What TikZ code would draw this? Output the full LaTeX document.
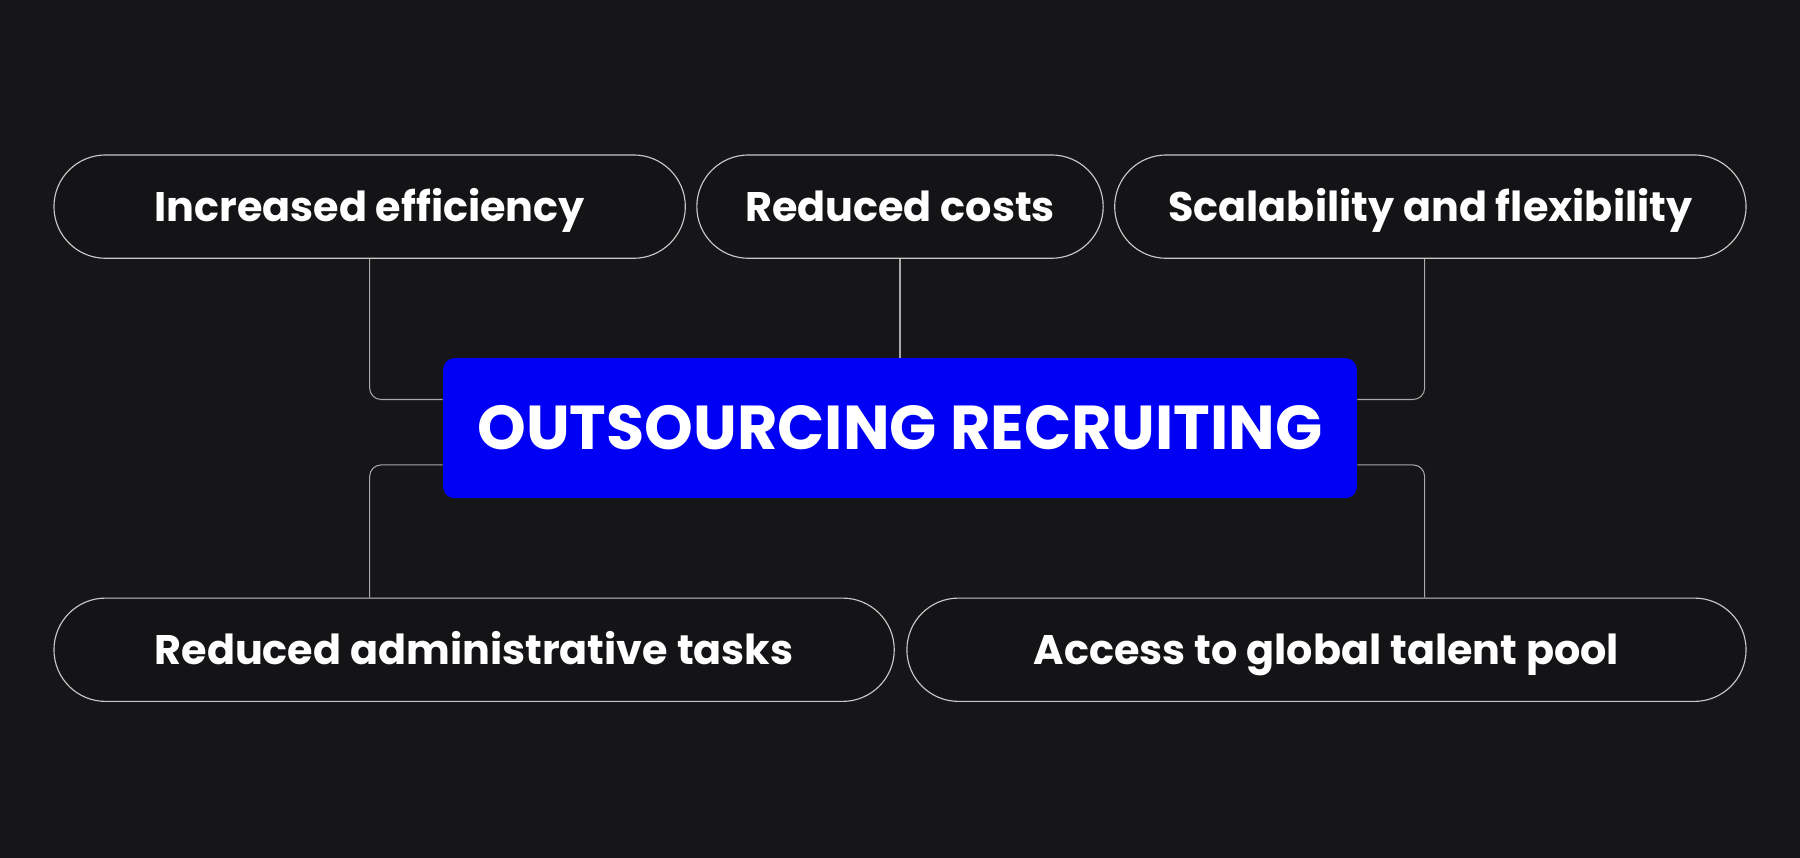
\documentclass[tikz,border=0pt]{standalone}
\usepackage{fontspec}
\setmainfont{Poppins}
\usetikzlibrary{calc}
\definecolor{bg}{HTML}{161618}
\definecolor{boxfill}{HTML}{141416}
\definecolor{boxline}{HTML}{C8C8C8}
\definecolor{connline}{HTML}{A8A8A8}
\definecolor{centerblue}{HTML}{0000F5}
\tikzset{
  pill/.style={draw=boxline, line width=0.5pt, fill=boxfill, rectangle, rounded corners=22.5pt,
    minimum height=45pt, inner sep=0pt, text=white, text height=12.6pt, text depth=0pt,
    font=\fontsize{18}{20}\selectfont\bfseries},
  hub/.style={fill=centerblue, rectangle, rounded corners=5pt, minimum width=398pt, minimum height=61pt,
    inner sep=0pt, text=white, text height=18.9pt, text depth=0pt,
    font=\fontsize{27}{30}\selectfont\bfseries},
  conn/.style={draw=connline, line width=0.45pt, rounded corners=5pt}
}
\begin{document}
\begin{tikzpicture}[x=0.5pt,y=-0.5pt]
\fill[bg] (0,0) rectangle (1568,747);
\useasboundingbox (0,0) rectangle (1568,747);
\node[pill, minimum width=275pt] (b1) at (322,180) {Increased efficiency};
\node[pill, minimum width=177pt] (b2) at (784,180) {Reduced costs};
\node[pill, minimum width=275pt] (b3) at (1246,180) {Scalability and flexibility};
\node[pill, minimum width=366pt] (b4) at (413,566) {Reduced administrative tasks};
\node[pill, minimum width=365.5pt] (b5) at (1155.5,566) {Access to global talent pool};
\node[hub] (c) at (784,373) {OUTSOURCING RECRUITING};
\coordinate (t3) at ([xshift=-2.5pt]b3.south);
\draw[conn] (b1.south) |- ([yshift=12.5pt]c.west);
\draw[conn] (b2.south) -- (c.north);
\draw[conn] (t3) |- ([yshift=12.5pt]c.east);
\draw[conn] (b4.north -| b1.south) |- ([yshift=-16pt]c.west);
\draw[conn] (b5.north -| t3) |- ([yshift=-16pt]c.east);
\end{tikzpicture}
\end{document}
